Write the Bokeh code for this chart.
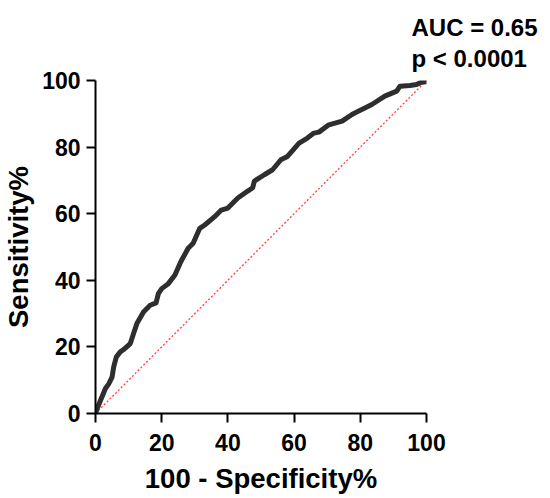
from bokeh.plotting import figure
from bokeh.models import Range1d, Title
from bokeh.embed import file_html
from bokeh.resources import INLINE

# 100 - Specificity% (x) and Sensitivity% (y)
fpr = [0, 0.5, 1.5, 3.0, 4.0, 5.0, 5.5, 6.3, 7.5, 8.5, 10.5, 11.5, 12.5, 14.5,
       16.5, 18.3, 19.0, 20.0, 22.0, 24.0, 25.5, 26.0, 28.0, 29.5, 31.5, 33.0,
       36.0, 38.0, 40.0, 43.0, 46.0, 47.5, 48.0, 51.0, 53.5, 56.0, 58.0, 61.5,
       64.0, 66.0, 67.5, 70.5, 74.5, 77.5, 79.4, 83.5, 87.4, 91.0, 92.0, 95.0,
       97.0, 98.4, 100]
sens = [0, 1.5, 3.9, 7.5, 8.9, 10.9, 14.0, 17.0, 18.5, 19.2, 21.0, 24.0, 27.0,
        30.5, 32.5, 33.2, 36.0, 37.5, 39.0, 41.6, 45.0, 46.0, 49.6, 51.1, 55.6,
        56.6, 59.1, 61.1, 61.7, 64.7, 66.8, 67.8, 69.8, 71.7, 73.2, 76.2, 77.2,
        81.2, 82.7, 84.2, 84.5, 86.7, 87.8, 89.8, 90.8, 92.8, 95.3, 96.8, 98.3,
        98.5, 98.8, 99.5, 99.6]
diag_x = [0, 100]
diag_y = [0, 100]
ticks = [0, 20, 40, 60, 80, 100]
auc_text = "AUC = 0.65"
p_text = "p < 0.0001"

FONT = "Liberation Sans"

p = figure(width=550, height=498, output_backend="svg", toolbar_location=None,
           x_range=Range1d(0, 100), y_range=Range1d(0, 100),
           min_border_left=93, min_border_right=124, min_border_top=80,
           min_border_bottom=85)
p.outline_line_color = None
p.xgrid.visible = False
p.ygrid.visible = False
p.background_fill_color = "white"
p.border_fill_color = "white"

p.line(diag_x, diag_y, line_color="#ff4040", line_width=1.3, line_dash="2 2")
p.line(fpr, sens, line_color="#2e2e2e", line_width=5, line_join="round",
       line_cap="round")

for ax in (p.xaxis[0], p.yaxis[0]):
    ax.ticker = ticks
    ax.axis_line_width = 2
    ax.axis_line_color = "black"
    ax.major_tick_line_width = 2
    ax.major_tick_line_color = "black"
    ax.major_tick_out = 9
    ax.major_tick_in = 0
    ax.minor_tick_line_color = None
    ax.major_label_text_font = FONT
    ax.major_label_text_font_style = "bold"
    ax.major_label_text_font_size = "23px"
    ax.major_label_text_color = "black"
    ax.axis_label_text_font = FONT
    ax.axis_label_text_font_style = "bold"
    ax.axis_label_text_font_size = "27.5px"
    ax.axis_label_text_color = "black"

p.xaxis.axis_label = "100 - Specificity%"
p.yaxis.axis_label = "Sensitivity%"
p.xaxis.major_label_standoff = 11
p.yaxis.major_label_standoff = 6
p.xaxis.axis_label_standoff = 9
p.yaxis.axis_label_standoff = 5

p.add_layout(Title(text=auc_text + "\n" + p_text, align="left", offset=316,
                   standoff=17, text_font=FONT, text_font_style="bold",
                   text_font_size="24px", text_color="black",
                   text_line_height=1.15), "above")

open("out.html", "w").write(file_html(p, INLINE))
